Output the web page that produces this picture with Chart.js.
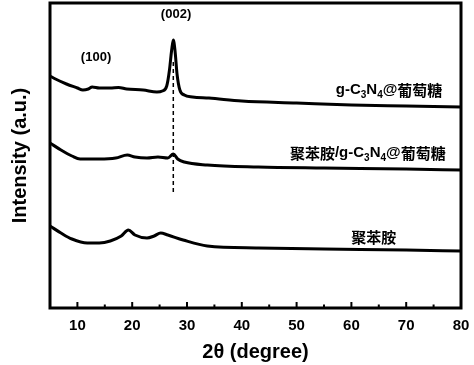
<!DOCTYPE html>
<html>
<head>
<meta charset="utf-8">
<script src="https://cdn.jsdelivr.net/npm/chart.js@4.4.1/dist/chart.umd.min.js"></script>
<style>
  html, body { margin: 0; padding: 0; background: #fff; }
  #wrap { width: 474px; height: 365px; }
</style>
</head>
<body>
<div id="wrap"><canvas id="xrd"></canvas></div>
<script>
// XRD patterns, intensity in arbitrary units (curves are stacked with offsets)
const glucoseX = [5, 6, 8, 10, 11, 12, 12.7, 14, 16, 17.5, 19, 22, 24.5, 25.5, 26.3, 26.8, 27.2, 27.5, 27.8, 28.2, 28.7, 29.5, 31, 34, 40, 50, 60, 70, 80];
const glucoseY = [232, 229, 224, 220, 218, 219, 221, 220, 220, 220.5, 219, 218, 216, 217, 222, 238, 258, 268, 258, 233, 218, 213, 211, 210, 207, 205, 203, 202, 201];

const compositeX = [5, 7, 9, 10.5, 14, 17, 19.1, 20.5, 22.7, 24.7, 26.5, 27.5, 28.3, 29.5, 33.7, 43, 55, 70, 80];
const compositeY = [165, 158, 152, 149, 149, 150, 153, 151, 150, 151, 150, 154, 149, 146, 143, 141, 140, 139, 138];

const paniX = [5, 7, 9, 11.8, 14, 16, 18, 19.3, 20.5, 22.7, 24, 25.2, 26.5, 29.3, 33.7, 43, 55, 70, 80];
const paniY = [82, 75, 69, 65, 65, 67, 72, 78, 73, 70, 72, 75, 73, 68, 62, 60, 59, 58, 57];

const xTickValues = [10, 20, 30, 40, 50, 60, 70, 80];
const xMinorTicks = [15, 25, 35, 45, 55, 65, 75];
const peak002 = 27.5;

const toPoints = (xs, ys) => xs.map((x, i) => ({ x, y: ys[i] }));

const latin = '"Liberation Sans", Arial, sans-serif';
const cjk = '"Noto Sans CJK SC", sans-serif';

// rich text: segments drawn right-aligned, with subscripts
function drawRich(ctx, segs, right, cy) {
  const fontOf = s => s.cjk ? 'bold 15px ' + cjk : (s.sub ? 'bold 10px ' : 'bold 15px ') + latin;
  let w = 0;
  segs.forEach(s => { ctx.font = fontOf(s); w += ctx.measureText(s.t).width; });
  let x = right - w;
  ctx.textBaseline = 'middle';
  ctx.textAlign = 'left';
  segs.forEach(s => {
    ctx.font = fontOf(s);
    ctx.fillText(s.t, x, s.sub ? cy + 5 : cy);
    x += ctx.measureText(s.t).width;
  });
}

// box round the plot and inward ticks on the bottom axis (edges taken from the scales)
const boxPlugin = {
  id: 'boxPlugin',
  afterDraw(chart) {
    const { ctx, scales: { x, y } } = chart;
    const l = x.getPixelForValue(x.min), r = x.getPixelForValue(x.max);
    const t = y.getPixelForValue(y.max), b = y.getPixelForValue(y.min);
    ctx.save();
    ctx.setLineDash([]);
    ctx.strokeStyle = '#000';
    ctx.lineWidth = 3;
    ctx.beginPath();
    ctx.moveTo(l, t); ctx.lineTo(r, t); ctx.lineTo(r, b); ctx.lineTo(l, b); ctx.closePath();
    ctx.stroke();
    ctx.lineWidth = 2;
    ctx.beginPath();
    xTickValues.forEach(v => {
      const px = x.getPixelForValue(v);
      ctx.moveTo(px, b); ctx.lineTo(px, b - 6);
    });
    xMinorTicks.forEach(v => {
      const px = x.getPixelForValue(v);
      ctx.moveTo(px, b); ctx.lineTo(px, b - 3.5);
    });
    ctx.stroke();
    ctx.restore();
  }
};

const notes = {
  id: 'notes',
  afterDraw(chart) {
    const { ctx, scales: { x, y } } = chart;
    ctx.save();
    ctx.fillStyle = '#000';
    ctx.strokeStyle = '#000';

    // dashed guide at the (002) peak
    ctx.lineWidth = 1.5;
    ctx.setLineDash([4, 3]);
    ctx.beginPath();
    ctx.moveTo(x.getPixelForValue(peak002), y.getPixelForValue(246));
    ctx.lineTo(x.getPixelForValue(peak002), y.getPixelForValue(115));
    ctx.stroke();
    ctx.setLineDash([]);

    // peak labels
    ctx.font = 'bold 13px ' + latin;
    ctx.textAlign = 'center';
    ctx.textBaseline = 'middle';
    ctx.fillText('(002)', x.getPixelForValue(28), y.getPixelForValue(294));
    ctx.fillText('(100)', x.getPixelForValue(13.4), y.getPixelForValue(251));

    // sample labels
    drawRich(ctx, [
      { t: 'g-C' }, { t: '3', sub: true }, { t: 'N' }, { t: '4', sub: true }, { t: '@' },
      { t: '葡萄糖', cjk: true }
    ], x.getPixelForValue(76.6), y.getPixelForValue(218));
    drawRich(ctx, [
      { t: '聚苯胺', cjk: true }, { t: '/g-C' }, { t: '3', sub: true }, { t: 'N' }, { t: '4', sub: true }, { t: '@' },
      { t: '葡萄糖', cjk: true }
    ], x.getPixelForValue(77.2), y.getPixelForValue(155));
    drawRich(ctx, [{ t: '聚苯胺', cjk: true }], x.getPixelForValue(68.2), y.getPixelForValue(71));
    ctx.restore();
  }
};

const line = (xs, ys) => ({
  data: toPoints(xs, ys),
  borderColor: '#000',
  borderWidth: 3,
  pointRadius: 0,
  fill: false,
  cubicInterpolationMode: 'monotone'
});

new Chart(document.getElementById('xrd'), {
  type: 'line',
  data: {
    datasets: [line(glucoseX, glucoseY), line(compositeX, compositeY), line(paniX, paniY)]
  },
  options: {
    responsive: true,
    maintainAspectRatio: false,
    animation: false,
    layout: { padding: { top: 3, right: 13, left: 0, bottom: 0 } },
    plugins: { legend: { display: false }, tooltip: { enabled: false } },
    scales: {
      x: {
        type: 'linear',
        min: 5,
        max: 80,
        afterBuildTicks: s => { s.ticks = xTickValues.map(v => ({ value: v })); },
        afterFit: s => { s.height = 57; s.paddingRight = 0; s.paddingLeft = 0; },
        grid: { display: false, drawTicks: false },
        border: { display: false },
        ticks: { color: '#000', padding: 9, maxRotation: 0, font: { family: latin, size: 15, weight: 'bold' } },
        title: {
          display: true,
          text: '2θ (degree)',
          color: '#000',
          padding: { top: 0, bottom: 1 },
          font: { family: latin, size: 20, weight: 'bold' }
        }
      },
      y: {
        min: 0,
        max: 305,
        afterFit: s => { s.width = 50; },
        grid: { display: false, drawTicks: false },
        border: { display: false },
        ticks: { display: false },
        title: {
          display: true,
          text: 'Intensity (a.u.)',
          color: '#000',
          padding: { top: 8, bottom: 0 },
          font: { family: latin, size: 20, weight: 'bold' }
        }
      }
    }
  },
  plugins: [boxPlugin, notes]
});
</script>
</body>
</html>
